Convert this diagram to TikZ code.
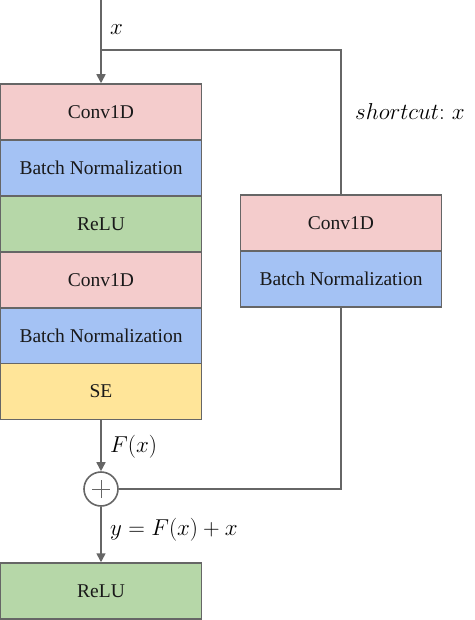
\documentclass[tikz,border=0pt]{standalone}
\usepackage{fix-cm}
\usepackage{fontspec}
\newfontfamily\boxfont{Liberation Serif}
\usetikzlibrary{arrows.meta}
\definecolor{cpink}{HTML}{F4CCCC}
\definecolor{cblue}{HTML}{A4C2F4}
\definecolor{cgreen}{HTML}{B6D7A8}
\definecolor{cyellow}{HTML}{FFE599}
\definecolor{cline}{HTML}{666666}
\begin{document}
\begin{tikzpicture}[x=1pt,y=-1pt,
  layer/.style={draw=cline,line width=1.5pt,minimum width=201pt,minimum height=56pt,inner sep=0pt,font=\boxfont\fontsize{19.5}{22}\selectfont,text=black!90},
  conn/.style={draw=cline,line width=1.6pt},
  arr/.style={conn,-{Triangle[length=9pt,width=9pt]}},
  lab/.style={font=\fontsize{23}{26}\selectfont,inner sep=0pt}]
\useasboundingbox (0,0) rectangle (474,620);
\node[layer,fill=cpink]   (c1) at (101,112) {Conv1D};
\node[layer,fill=cblue]   (b1) at (101,168) {Batch Normalization};
\node[layer,fill=cgreen]  (r1) at (101,224) {ReLU};
\node[layer,fill=cpink]   (c2) at (101,280) {Conv1D};
\node[layer,fill=cblue]   (b2) at (101,336) {Batch Normalization};
\node[layer,fill=cyellow] (se) at (101,391.5) {SE};
\node[layer,fill=cgreen]  (r2) at (101,591) {ReLU};
\node[layer,fill=cpink]   (c3) at (341,223) {Conv1D};
\node[layer,fill=cblue]   (b3) at (341,279) {Batch Normalization};
\node[circle,draw=cline,line width=1.6pt,minimum size=34pt,inner sep=0pt] (add) at (101,489) {};
\draw[cline,line width=0.8pt] ([xshift=-9pt]add.center) -- ([xshift=9pt]add.center)
  ([yshift=-9pt]add.center) -- ([yshift=9pt]add.center);
\coordinate (in) at (101,0);
\coordinate (split) at (101,50);
\coordinate (corner) at (341,50);
\coordinate (corner2) at (341,489);
\draw[arr] (in) -- (c1.north);
\draw[conn] (split) -- (corner) -- (c3.north);
\draw[conn] (b3.south) -- (corner2) -- (add.east);
\draw[arr] (se.south) -- (add.north);
\draw[arr] (add.south) -- (r2.north);
\node[lab,anchor=west] (lx) at (110,30) {$x$};
\node[lab,anchor=west] (ls) at (355,112) {$shortcut{:}\ x$};
\node[lab,anchor=west] (lf) at (110,447) {$F(x)$};
\node[lab,anchor=west] (ly) at (110,530) {$y=F(x)+x$};
\end{tikzpicture}
\end{document}
